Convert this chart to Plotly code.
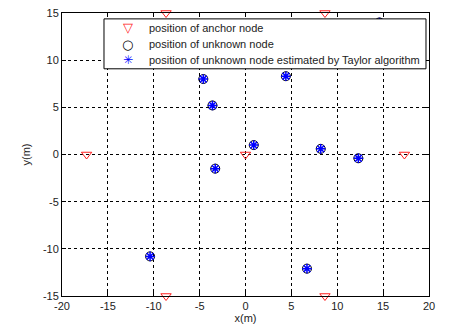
import plotly.graph_objects as go

# anchor nodes
anchor_x = [0, -17.32, 17.32, -8.66, 8.66, -8.66, 8.66]
anchor_y = [0, 0, 0, 15, 15, -15, -15]

# true positions of unknown nodes
unk_x = [-4.6, -3.6, 0.9, 4.4, 8.2, 12.3, 14.6, -3.3, -10.4, 6.7]
unk_y = [8.0, 5.2, 1.0, 8.3, 0.6, -0.4, 14.0, -1.5, -10.8, -12.1]

# estimated positions (Taylor algorithm)
est_x = [-4.6, -3.6, 0.9, 4.4, 8.2, 12.3, 14.6, -3.3, -10.4, 6.7]
est_y = [8.0, 5.2, 1.0, 8.3, 0.6, -0.4, 14.0, -1.5, -10.8, -12.1]

x_ticks = [-20, -15, -10, -5, 0, 5, 10, 15, 20]
y_ticks = [-15, -10, -5, 0, 5, 10, 15]

legend_labels = [
    "position of anchor node",
    "position of unknown node",
    "position of unknown node estimated by Taylor algorithm",
]
legend_keys = ["\u25BD", "\u25CB", "\u2733"]
legend_key_colors = ["#ff2020", "black", "#0000ff"]
legend_key_sizes = [13, 13, 12]

FONT = "Liberation Sans, Arial, sans-serif"

fig = go.Figure()
fig.add_trace(go.Scatter(
    x=anchor_x, y=anchor_y, mode="markers",
    name=legend_labels[0],
    marker=dict(symbol="triangle-down-open", size=9, color="#ff2020",
                line=dict(width=1)),
    cliponaxis=False,
))
fig.add_trace(go.Scatter(
    x=unk_x, y=unk_y, mode="markers",
    name=legend_labels[1],
    marker=dict(symbol="circle-open", size=9, color="black",
                line=dict(width=1)),
))
fig.add_trace(go.Scatter(
    x=est_x, y=est_y, mode="markers",
    name=legend_labels[2],
    marker=dict(symbol="asterisk-open", size=8, color="#0000ff",
                line=dict(width=1.5, color="#0000ff")),
))

axis_common = dict(
    showline=True, linecolor="black", linewidth=1, mirror="allticks",
    ticks="inside", ticklen=4, tickcolor="black",
    showgrid=True, gridcolor="black", griddash="dot", gridwidth=1,
    zeroline=False,
    tickfont=dict(family=FONT, size=11, color="#222222"),
)

# legend box drawn in paper coordinates (MATLAB-style compact legend)
box_x0, box_x1, box_y0, box_y1 = 0.1144, 0.9918, 0.8028, 0.9792
row_y = [0.947, 0.889, 0.834]
key_x, text_x = 0.1798, 0.2320

annotations = []
for lab, key, col, ks, ry in zip(legend_labels, legend_keys, legend_key_colors,
                                 legend_key_sizes, row_y):
    annotations.append(dict(
        xref="paper", yref="paper", x=key_x, y=ry, text=key, showarrow=False,
        xanchor="center", yanchor="middle",
        font=dict(family="DejaVu Sans", size=ks, color=col),
    ))
    annotations.append(dict(
        xref="paper", yref="paper", x=text_x, y=ry, text=lab, showarrow=False,
        xanchor="left", yanchor="middle",
        font=dict(family=FONT, size=11, color="#222222"),
    ))

fig.update_layout(
    width=474, height=335,
    margin=dict(l=62, r=45, t=7, b=39),
    paper_bgcolor="white", plot_bgcolor="white",
    font=dict(family=FONT, size=11, color="#222222"),
    showlegend=False,
    shapes=[dict(type="rect", xref="paper", yref="paper",
                 x0=box_x0, x1=box_x1, y0=box_y0, y1=box_y1,
                 fillcolor="white", line=dict(color="black", width=1),
                 layer="above")],
    annotations=annotations,
    xaxis=dict(range=[-20, 20], tickvals=x_ticks, ticktext=[str(v) for v in x_ticks],
               title=dict(text="x(m)", standoff=2, font=dict(size=11)),
               **axis_common),
    yaxis=dict(range=[-15, 15], tickvals=y_ticks, ticktext=[str(v) for v in y_ticks],
               title=dict(text="y(m)", standoff=10, font=dict(size=11)),
               **axis_common),
)

fig.write_html("out.html")
